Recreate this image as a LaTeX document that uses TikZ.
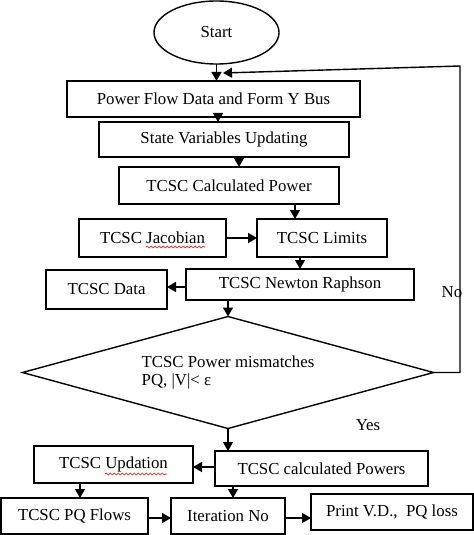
\documentclass[tikz,border=0pt]{standalone}
\usepackage{fontspec}
\setmainfont{Liberation Serif}
\usetikzlibrary{arrows.meta, shapes.geometric, decorations.pathmorphing}

\begin{document}
\begin{tikzpicture}[
  x=0.5pt, y=-0.5pt,
  font=\fontsize{8.4}{9}\selectfont,
  arrow/.style={-{Triangle[length=4.5pt, width=5pt]}, line width=0.7pt},
  box/.style 2 args={
    draw, line width=0.7pt,
    minimum width=#1*0.5pt, minimum height=#2*0.5pt,
    inner sep=0pt, outer sep=0pt
  },
  terminal/.style={
    draw, ellipse, line width=0.7pt,
    minimum width=62.5pt, minimum height=31.5pt,
    inner sep=0pt, outer sep=0pt
  },
  decision/.style={
    draw, diamond, aspect=3.67, line width=0.7pt, align=left,
    minimum width=205.5pt, minimum height=56pt,
    inner sep=0pt, outer sep=0pt
  },
  squiggle/.style={red, line width=0.3pt, decorate,
    decoration={snake, amplitude=0.5pt, segment length=2pt}}
]
\useasboundingbox (0,0) rectangle (474,535);

% =========================
% Upper part
% =========================
\node[terminal] (start) at (216.5,32.5) {Start};

\node[box={293}{36}] (pflow) at (213.5,99)
{Power Flow Data and Form Y Bus};

\node[box={250}{35}] (state) at (224,139.5)
{State Variables Updating};

\node[box={220}{37}] (calcpow) at (229,185.5)
{TCSC Calculated Power};

\node[box={147}{38}] (jacob) at (152.5,238)
{TCSC Jacobian};

\node[box={130}{38}] (limits) at (322,238)
{TCSC Limits};

\node[box={228}{31}] (newton) at (300,284.5)
{TCSC Newton Raphson};

\node[box={121}{39}] (tdata) at (106.5,289.5)
{TCSC Data};

\node[decision] (check) at (228,372.5)
{TCSC Power mismatches\\PQ, |V|< ε};

\draw[arrow] (start) -- (start |- pflow.north);
\draw[arrow] (pflow.south -| 218,0) -- (state.north -| 218,0);
\draw[arrow] (state.south -| 239,0) -- (calcpow.north -| 239,0);
\draw[arrow] (calcpow.south -| 295,0) -- (limits.north -| 295,0);
\draw[arrow] (jacob) -- (limits);
\draw[arrow] (limits.south -| 300,0) -- (newton.north -| 300,0);
\draw[arrow] (newton.west |- 0,287) -- (tdata.east |- 0,287);
\draw[arrow] (newton.south -| check.north) -- (check.north);

% =========================
% Lower part
% =========================
\node[box={213}{35}] (calcpows) at (321.5,468.5)
{TCSC calculated Powers};

\node[box={159}{37}] (update) at (113.5,464.5)
{TCSC Updation};

\node[box={147}{36}] (pqflow) at (74.5,516)
{TCSC PQ Flows};

\node[box={114}{36}] (iter) at (228,516)
{Iteration No};

\node[box={162}{36}] (print) at (392,512)
{Print V.D.,\ \ PQ loss};

\draw[arrow] (check.south) -- (check.south |- calcpows.north);
\draw[arrow] (calcpows.west |- 0,467) -- (update.east |- 0,467);
\draw[arrow] (update.south -| 80,0) -- (pqflow.north -| 80,0);
\draw[arrow] (calcpows.south -| 233,0) -- (iter.north -| 233,0);
\draw[arrow] (pqflow.east |- 0,518) -- (iter.west |- 0,518);
\draw[arrow] (iter.east |- 0,518) -- (print.west |- 0,518);

% feedback loop
\coordinate (fbtop) at (460,66);
\coordinate (fbend) at (223,73);
\draw[arrow] (check.east) -| (fbtop) -- (fbend);

\node (yes) at (368,425) {Yes};
\node (no) at (452,292) {No};

% spell-check marks
\draw[squiggle] (146,247) -- (205,247);
\draw[squiggle] (105,474) -- (167,474);

\end{tikzpicture}
\end{document}
